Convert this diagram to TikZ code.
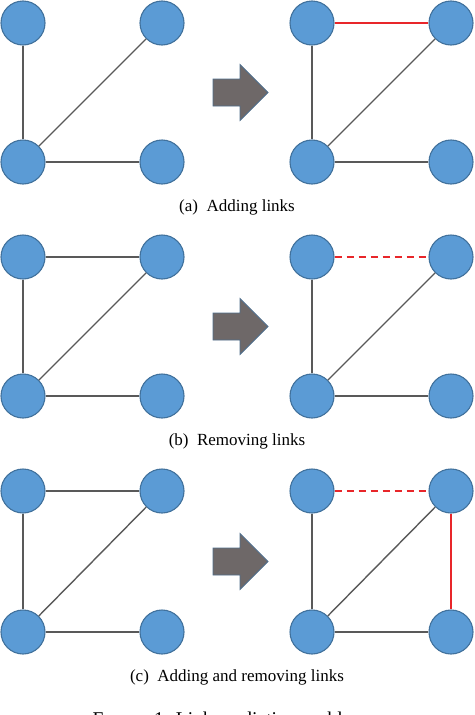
\documentclass[tikz,border=0pt]{standalone}
\usepackage{fontspec}
\setmainfont{Liberation Serif}
\usepackage{tikz}
\definecolor{nodeblue}{HTML}{5B9BD5}
\definecolor{nodeedge}{HTML}{41719C}
\definecolor{linkgray}{HTML}{595959}
\definecolor{linkred}{HTML}{E8262A}
\definecolor{arrowfill}{HTML}{6E6868}
\definecolor{arrowedge}{HTML}{4F6E8C}
\begin{document}
\begin{tikzpicture}[
    x=1pt,y=-1pt,
    vertex/.style={circle,fill=nodeblue,draw=nodeedge,line width=1.1pt,minimum size=44pt,inner sep=0pt},
    link/.style={draw=linkgray,line width=1.4pt},
    newlink/.style={draw=linkred,line width=1.4pt},
    lostlink/.style={draw=linkred,line width=1.6pt,dash pattern=on 7pt off 5pt},
    bigarrow/.style={fill=arrowfill,draw=arrowedge,line width=0.8pt,line join=miter},
    caption/.style={font=\fontsize{17}{20}\selectfont,anchor=base}
    ]
    \useasboundingbox (0,0) rectangle (474,715);
    % (a)
    \node[vertex] (a1) at (23,23) {};
    \node[vertex] (a2) at (162,23) {};
    \node[vertex] (a3) at (23,162) {};
    \node[vertex] (a4) at (162,162) {};
    \node[vertex] (a5) at (312,23) {};
    \node[vertex] (a6) at (451,23) {};
    \node[vertex] (a7) at (312,162) {};
    \node[vertex] (a8) at (451,162) {};
    \draw[link] (a1) -- (a3);
    \draw[link] (a3) -- (a2);
    \draw[link] (a3) -- (a4);
    \draw[link] (a5) -- (a7);
    \draw[link] (a7) -- (a6);
    \draw[link] (a7) -- (a8);
    \draw[newlink] (a5) -- (a6);
    \draw[bigarrow,shift={(240,92.5)}] (-27,-13.5) -- (0,-13.5) -- (0,-28) -- (28,0) -- (0,28) -- (0,13.5) -- (-27,13.5) -- cycle;
    \node[caption] (capa) at (237,211) {(a)~~Adding links};
    % (b)
    \node[vertex] (b1) at (23,257) {};
    \node[vertex] (b2) at (162,257) {};
    \node[vertex] (b3) at (23,396) {};
    \node[vertex] (b4) at (162,396) {};
    \node[vertex] (b5) at (312,257) {};
    \node[vertex] (b6) at (451,257) {};
    \node[vertex] (b7) at (312,396) {};
    \node[vertex] (b8) at (451,396) {};
    \draw[link] (b1) -- (b2);
    \draw[link] (b1) -- (b3);
    \draw[link] (b3) -- (b2);
    \draw[link] (b3) -- (b4);
    \draw[link] (b5) -- (b7);
    \draw[link] (b7) -- (b6);
    \draw[link] (b7) -- (b8);
    \draw[lostlink] (b5) -- (b6);
    \draw[bigarrow,shift={(240,326.5)}] (-27,-13.5) -- (0,-13.5) -- (0,-28) -- (28,0) -- (0,28) -- (0,13.5) -- (-27,13.5) -- cycle;
    \node[caption] (capb) at (237,445) {(b)~~Removing links};
    % (c)
    \node[vertex] (c1) at (23,491) {};
    \node[vertex] (c2) at (162,491) {};
    \node[vertex] (c3) at (23,632) {};
    \node[vertex] (c4) at (162,632) {};
    \node[vertex] (c5) at (312,491) {};
    \node[vertex] (c6) at (451,491) {};
    \node[vertex] (c7) at (312,632) {};
    \node[vertex] (c8) at (451,632) {};
    \draw[link] (c1) -- (c2);
    \draw[link] (c1) -- (c3);
    \draw[link] (c3) -- (c2);
    \draw[link] (c3) -- (c4);
    \draw[link] (c5) -- (c7);
    \draw[link] (c7) -- (c6);
    \draw[link] (c7) -- (c8);
    \draw[lostlink] (c5) -- (c6);
    \draw[newlink] (c6) -- (c8);
    \draw[bigarrow,shift={(240,561.5)}] (-27,-13.5) -- (0,-13.5) -- (0,-28) -- (28,0) -- (0,28) -- (0,13.5) -- (-27,13.5) -- cycle;
    \node[caption] (capc) at (237,681) {(c)~~Adding and removing links};
    \node[caption,font=\fontsize{19.5}{22}\selectfont] (fig) at (232,725) {F{\fontsize{15}{17}\selectfont IGURE} 1: Link prediction problem.};
\end{tikzpicture}
\end{document}
